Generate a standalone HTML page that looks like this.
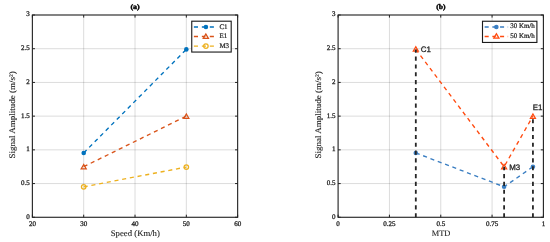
<!DOCTYPE html>
<html lang="en"><head><meta charset="utf-8"><title>Signal Amplitude</title>
<style>
html,body{margin:0;padding:0;background:#fff;}
body{width:550px;height:242px;overflow:hidden;font-family:"Liberation Serif","DejaVu Serif",serif;}
svg{display:block;}
</style></head><body>
<svg width="550" height="242" viewBox="0 0 550 242" font-family='"Liberation Serif", "DejaVu Serif", serif'>
<rect width="550" height="242" fill="#fff"/>
<style>text{stroke:#2a2a2a;stroke-width:0.3px;fill:#222;text-rendering:geometricPrecision}</style>
<line x1="83.70" y1="15.0" x2="83.70" y2="217.28" stroke="#000" stroke-opacity="0.17" stroke-width="0.85"/>
<line x1="135.02" y1="15.0" x2="135.02" y2="217.28" stroke="#000" stroke-opacity="0.17" stroke-width="0.85"/>
<line x1="186.33" y1="15.0" x2="186.33" y2="217.28" stroke="#000" stroke-opacity="0.17" stroke-width="0.85"/>
<line x1="32.38" y1="183.57" x2="237.65" y2="183.57" stroke="#000" stroke-opacity="0.17" stroke-width="0.85"/>
<line x1="32.38" y1="149.85" x2="237.65" y2="149.85" stroke="#000" stroke-opacity="0.17" stroke-width="0.85"/>
<line x1="32.38" y1="116.14" x2="237.65" y2="116.14" stroke="#000" stroke-opacity="0.17" stroke-width="0.85"/>
<line x1="32.38" y1="82.43" x2="237.65" y2="82.43" stroke="#000" stroke-opacity="0.17" stroke-width="0.85"/>
<line x1="32.38" y1="48.71" x2="237.65" y2="48.71" stroke="#000" stroke-opacity="0.17" stroke-width="0.85"/>
<polyline points="83.70,152.95 186.33,49.39" fill="none" stroke="#0072BD" stroke-width="1.35" stroke-dasharray="4.1 3.73"/>
<polyline points="83.70,166.71 186.33,116.14" fill="none" stroke="#D95319" stroke-width="1.35" stroke-dasharray="4.1 3.73"/>
<polyline points="83.70,186.87 186.33,167.05" fill="none" stroke="#EDB120" stroke-width="1.35" stroke-dasharray="4.1 3.73"/>
<circle cx="83.70" cy="152.95" r="2.3" fill="#0072BD"/>
<circle cx="186.33" cy="49.39" r="2.3" fill="#0072BD"/>
<path d="M80.10 169.56 L87.30 169.56 L83.70 163.26 Z M82.20 168.34 L83.70 165.72 L85.20 168.34 Z" fill="#D95319" fill-rule="evenodd"/>
<path d="M182.73 118.99 L189.93 118.99 L186.33 112.69 Z M184.83 117.77 L186.33 115.15 L187.83 117.77 Z" fill="#D95319" fill-rule="evenodd"/>
<circle cx="83.70" cy="186.87" r="2.25" fill="none" stroke="#EDB120" stroke-width="1.3"/>
<circle cx="186.33" cy="167.05" r="2.25" fill="none" stroke="#EDB120" stroke-width="1.3"/>
<rect x="32.38" y="15.0" width="205.27" height="202.28" fill="none" stroke="#222222" stroke-width="1.12"/>
<line x1="32.38" y1="217.28" x2="32.38" y2="214.68" stroke="#222222" stroke-width="1"/>
<line x1="32.38" y1="15.0" x2="32.38" y2="17.6" stroke="#222222" stroke-width="1"/>
<text x="32.38" y="225.68" font-size="7.0" text-anchor="middle">20</text>
<line x1="83.70" y1="217.28" x2="83.70" y2="214.68" stroke="#222222" stroke-width="1"/>
<line x1="83.70" y1="15.0" x2="83.70" y2="17.6" stroke="#222222" stroke-width="1"/>
<text x="83.70" y="225.68" font-size="7.0" text-anchor="middle">30</text>
<line x1="135.02" y1="217.28" x2="135.02" y2="214.68" stroke="#222222" stroke-width="1"/>
<line x1="135.02" y1="15.0" x2="135.02" y2="17.6" stroke="#222222" stroke-width="1"/>
<text x="135.02" y="225.68" font-size="7.0" text-anchor="middle">40</text>
<line x1="186.33" y1="217.28" x2="186.33" y2="214.68" stroke="#222222" stroke-width="1"/>
<line x1="186.33" y1="15.0" x2="186.33" y2="17.6" stroke="#222222" stroke-width="1"/>
<text x="186.33" y="225.68" font-size="7.0" text-anchor="middle">50</text>
<line x1="237.65" y1="217.28" x2="237.65" y2="214.68" stroke="#222222" stroke-width="1"/>
<line x1="237.65" y1="15.0" x2="237.65" y2="17.6" stroke="#222222" stroke-width="1"/>
<text x="237.65" y="225.68" font-size="7.0" text-anchor="middle">60</text>
<line x1="32.38" y1="217.28" x2="34.980000000000004" y2="217.28" stroke="#222222" stroke-width="1"/>
<line x1="237.65" y1="217.28" x2="235.05" y2="217.28" stroke="#222222" stroke-width="1"/>
<text x="29.78" y="218.73" font-size="7.0" text-anchor="end">0</text>
<line x1="32.38" y1="183.57" x2="34.980000000000004" y2="183.57" stroke="#222222" stroke-width="1"/>
<line x1="237.65" y1="183.57" x2="235.05" y2="183.57" stroke="#222222" stroke-width="1"/>
<text x="29.78" y="185.02" font-size="7.0" text-anchor="end">0.5</text>
<line x1="32.38" y1="149.85" x2="34.980000000000004" y2="149.85" stroke="#222222" stroke-width="1"/>
<line x1="237.65" y1="149.85" x2="235.05" y2="149.85" stroke="#222222" stroke-width="1"/>
<text x="29.78" y="151.30" font-size="7.0" text-anchor="end">1</text>
<line x1="32.38" y1="116.14" x2="34.980000000000004" y2="116.14" stroke="#222222" stroke-width="1"/>
<line x1="237.65" y1="116.14" x2="235.05" y2="116.14" stroke="#222222" stroke-width="1"/>
<text x="29.78" y="117.59" font-size="7.0" text-anchor="end">1.5</text>
<line x1="32.38" y1="82.43" x2="34.980000000000004" y2="82.43" stroke="#222222" stroke-width="1"/>
<line x1="237.65" y1="82.43" x2="235.05" y2="82.43" stroke="#222222" stroke-width="1"/>
<text x="29.78" y="83.88" font-size="7.0" text-anchor="end">2</text>
<line x1="32.38" y1="48.71" x2="34.980000000000004" y2="48.71" stroke="#222222" stroke-width="1"/>
<line x1="237.65" y1="48.71" x2="235.05" y2="48.71" stroke="#222222" stroke-width="1"/>
<text x="29.78" y="50.16" font-size="7.0" text-anchor="end">2.5</text>
<line x1="32.38" y1="15.00" x2="34.980000000000004" y2="15.00" stroke="#222222" stroke-width="1"/>
<line x1="237.65" y1="15.00" x2="235.05" y2="15.00" stroke="#222222" stroke-width="1"/>
<text x="29.78" y="16.45" font-size="7.0" text-anchor="end">3</text>
<text x="110.77" y="235.8" font-size="8.5" textLength="49.1" lengthAdjust="spacingAndGlyphs" style="stroke-width:0.12px">Speed (Km/h)</text>
<text x="130.42" y="9.3" font-size="7.1" font-weight="bold" textLength="9.3" lengthAdjust="spacingAndGlyphs" style="stroke-width:0.42px;fill:#000;stroke:#000">(a)</text>
<text transform="translate(15.18,158.5) rotate(-90)" font-size="8.5" textLength="87.2" lengthAdjust="spacingAndGlyphs" style="stroke-width:0.12px">Signal Amplitude (m/s²)</text>
<rect x="191.75" y="21.2" width="39.45" height="30.85" fill="#fff" stroke="#1c1c1c" stroke-width="1.12"/>
<line x1="193.9" y1="27.0" x2="217.7" y2="27.0" stroke="#0072BD" stroke-width="1.35" stroke-dasharray="4.1 3.85"/>
<circle cx="205.90" cy="27.00" r="2.3" fill="#0072BD"/>
<text x="219.4" y="28.50" font-size="7.0" style="stroke-width:0.2px;fill:#161616;stroke:#1c1c1c">C1</text>
<line x1="193.9" y1="36.5" x2="217.7" y2="36.5" stroke="#D95319" stroke-width="1.35" stroke-dasharray="4.1 3.85"/>
<path d="M204.42 37.70 L205.85 35.27 L207.28 37.70 Z" fill="#fff" fill-opacity="0.8"/>
<path d="M202.15 39.00 L209.55 39.00 L205.85 32.70 Z M204.42 37.70 L205.85 35.27 L207.28 37.70 Z" fill="#D95319" fill-rule="evenodd"/>
<text x="219.4" y="38.00" font-size="7.0" style="stroke-width:0.2px;fill:#161616;stroke:#1c1c1c">E1</text>
<line x1="193.9" y1="46.1" x2="217.7" y2="46.1" stroke="#EDB120" stroke-width="1.35" stroke-dasharray="4.1 3.85"/>
<circle cx="205.90" cy="46.10" r="2.25" fill="none" stroke="#EDB120" stroke-width="1.3"/>
<text x="219.4" y="47.60" font-size="7.0" style="stroke-width:0.2px;fill:#161616;stroke:#1c1c1c">M3</text>
<line x1="389.43" y1="15.0" x2="389.43" y2="217.28" stroke="#000" stroke-opacity="0.17" stroke-width="0.85"/>
<line x1="440.75" y1="15.0" x2="440.75" y2="217.28" stroke="#000" stroke-opacity="0.17" stroke-width="0.85"/>
<line x1="492.07" y1="15.0" x2="492.07" y2="217.28" stroke="#000" stroke-opacity="0.17" stroke-width="0.85"/>
<line x1="338.1" y1="183.57" x2="543.4" y2="183.57" stroke="#000" stroke-opacity="0.17" stroke-width="0.85"/>
<line x1="338.1" y1="149.85" x2="543.4" y2="149.85" stroke="#000" stroke-opacity="0.17" stroke-width="0.85"/>
<line x1="338.1" y1="116.14" x2="543.4" y2="116.14" stroke="#000" stroke-opacity="0.17" stroke-width="0.85"/>
<line x1="338.1" y1="82.43" x2="543.4" y2="82.43" stroke="#000" stroke-opacity="0.17" stroke-width="0.85"/>
<line x1="338.1" y1="48.71" x2="543.4" y2="48.71" stroke="#000" stroke-opacity="0.17" stroke-width="0.85"/>
<polyline points="415.81,152.95 504.11,186.80 532.93,166.71" fill="none" stroke="#3a7ec2" stroke-width="1.35" stroke-dasharray="4.1 3.73"/>
<polyline points="415.81,49.39 504.11,166.71 532.93,116.14" fill="none" stroke="#ff4a0f" stroke-width="1.35" stroke-dasharray="4.1 3.73"/>
<circle cx="415.81" cy="152.95" r="2.3" fill="#3a7ec2"/>
<circle cx="504.11" cy="186.80" r="2.3" fill="#3a7ec2"/>
<circle cx="532.93" cy="166.71" r="2.3" fill="#3a7ec2"/>
<path d="M412.21 51.79 L419.41 51.79 L415.81 45.49 Z M414.31 50.57 L415.81 47.95 L417.30 50.57 Z" fill="#ff4a0f" fill-rule="evenodd"/>
<path d="M500.51 169.56 L507.71 169.56 L504.11 163.26 Z M502.61 168.34 L504.11 165.72 L505.60 168.34 Z" fill="#ff4a0f" fill-rule="evenodd"/>
<path d="M529.33 118.99 L536.53 118.99 L532.93 112.69 Z M531.43 117.77 L532.93 115.15 L534.43 117.77 Z" fill="#ff4a0f" fill-rule="evenodd"/>
<line x1="415.81" y1="217.28" x2="415.81" y2="49.39" stroke="#262626" stroke-width="1.8" stroke-dasharray="4.1 3.73"/>
<line x1="504.11" y1="217.28" x2="504.11" y2="166.71" stroke="#262626" stroke-width="1.8" stroke-dasharray="4.1 3.73"/>
<line x1="532.93" y1="217.28" x2="532.93" y2="116.14" stroke="#262626" stroke-width="1.8" stroke-dasharray="4.1 3.73"/>
<g font-family='"Liberation Sans", "DejaVu Sans", sans-serif' font-size="7.9" style="stroke-width:0.28px;fill:#151515;stroke:#1a1a1a">
<text x="420.81" y="51.89">C1</text>
<text x="509.31" y="170.41">M3</text>
<text x="532.83" y="109.69">E1</text>
</g>
<rect x="338.1" y="15.0" width="205.30" height="202.28" fill="none" stroke="#222222" stroke-width="1.12"/>
<line x1="338.10" y1="217.28" x2="338.10" y2="214.68" stroke="#222222" stroke-width="1"/>
<line x1="338.10" y1="15.0" x2="338.10" y2="17.6" stroke="#222222" stroke-width="1"/>
<text x="338.10" y="225.68" font-size="7.0" text-anchor="middle">0</text>
<line x1="389.43" y1="217.28" x2="389.43" y2="214.68" stroke="#222222" stroke-width="1"/>
<line x1="389.43" y1="15.0" x2="389.43" y2="17.6" stroke="#222222" stroke-width="1"/>
<text x="389.43" y="225.68" font-size="7.0" text-anchor="middle">0.25</text>
<line x1="440.75" y1="217.28" x2="440.75" y2="214.68" stroke="#222222" stroke-width="1"/>
<line x1="440.75" y1="15.0" x2="440.75" y2="17.6" stroke="#222222" stroke-width="1"/>
<text x="440.75" y="225.68" font-size="7.0" text-anchor="middle">0.5</text>
<line x1="492.07" y1="217.28" x2="492.07" y2="214.68" stroke="#222222" stroke-width="1"/>
<line x1="492.07" y1="15.0" x2="492.07" y2="17.6" stroke="#222222" stroke-width="1"/>
<text x="492.07" y="225.68" font-size="7.0" text-anchor="middle">0.75</text>
<line x1="543.40" y1="217.28" x2="543.40" y2="214.68" stroke="#222222" stroke-width="1"/>
<line x1="543.40" y1="15.0" x2="543.40" y2="17.6" stroke="#222222" stroke-width="1"/>
<text x="543.40" y="225.68" font-size="7.0" text-anchor="middle">1</text>
<line x1="338.1" y1="217.28" x2="340.70000000000005" y2="217.28" stroke="#222222" stroke-width="1"/>
<line x1="543.4" y1="217.28" x2="540.8" y2="217.28" stroke="#222222" stroke-width="1"/>
<text x="335.50" y="218.73" font-size="7.0" text-anchor="end">0</text>
<line x1="338.1" y1="183.57" x2="340.70000000000005" y2="183.57" stroke="#222222" stroke-width="1"/>
<line x1="543.4" y1="183.57" x2="540.8" y2="183.57" stroke="#222222" stroke-width="1"/>
<text x="335.50" y="185.02" font-size="7.0" text-anchor="end">0.5</text>
<line x1="338.1" y1="149.85" x2="340.70000000000005" y2="149.85" stroke="#222222" stroke-width="1"/>
<line x1="543.4" y1="149.85" x2="540.8" y2="149.85" stroke="#222222" stroke-width="1"/>
<text x="335.50" y="151.30" font-size="7.0" text-anchor="end">1</text>
<line x1="338.1" y1="116.14" x2="340.70000000000005" y2="116.14" stroke="#222222" stroke-width="1"/>
<line x1="543.4" y1="116.14" x2="540.8" y2="116.14" stroke="#222222" stroke-width="1"/>
<text x="335.50" y="117.59" font-size="7.0" text-anchor="end">1.5</text>
<line x1="338.1" y1="82.43" x2="340.70000000000005" y2="82.43" stroke="#222222" stroke-width="1"/>
<line x1="543.4" y1="82.43" x2="540.8" y2="82.43" stroke="#222222" stroke-width="1"/>
<text x="335.50" y="83.88" font-size="7.0" text-anchor="end">2</text>
<line x1="338.1" y1="48.71" x2="340.70000000000005" y2="48.71" stroke="#222222" stroke-width="1"/>
<line x1="543.4" y1="48.71" x2="540.8" y2="48.71" stroke="#222222" stroke-width="1"/>
<text x="335.50" y="50.16" font-size="7.0" text-anchor="end">2.5</text>
<line x1="338.1" y1="15.00" x2="340.70000000000005" y2="15.00" stroke="#222222" stroke-width="1"/>
<line x1="543.4" y1="15.00" x2="540.8" y2="15.00" stroke="#222222" stroke-width="1"/>
<text x="335.50" y="16.45" font-size="7.0" text-anchor="end">3</text>
<text x="431.75" y="235.8" font-size="8.5" textLength="18.6" lengthAdjust="spacingAndGlyphs" style="stroke-width:0.12px">MTD</text>
<text x="436.15" y="9.3" font-size="7.1" font-weight="bold" textLength="9.3" lengthAdjust="spacingAndGlyphs" style="stroke-width:0.42px;fill:#000;stroke:#000">(b)</text>
<text transform="translate(320.90,158.5) rotate(-90)" font-size="8.5" textLength="87.2" lengthAdjust="spacingAndGlyphs" style="stroke-width:0.12px">Signal Amplitude (m/s²)</text>
<rect x="482.5" y="21.25" width="54.4" height="21.2" fill="#fff" stroke="#1c1c1c" stroke-width="1.12"/>
<line x1="484.65" y1="27.0" x2="508.1" y2="27.0" stroke="#3a7ec2" stroke-width="1.35" stroke-dasharray="4.05 3.65"/>
<circle cx="496.35" cy="27.00" r="2.3" fill="#3a7ec2"/>
<text x="510.2" y="28.30" font-size="7.0" textLength="24.6" lengthAdjust="spacingAndGlyphs" style="stroke-width:0.2px;fill:#161616;stroke:#1c1c1c">30 Km/h</text>
<line x1="484.65" y1="36.5" x2="508.1" y2="36.5" stroke="#ff4a0f" stroke-width="1.35" stroke-dasharray="4.05 3.65"/>
<path d="M494.97 37.50 L496.40 35.07 L497.83 37.50 Z" fill="#fff" fill-opacity="0.8"/>
<path d="M492.70 38.80 L500.10 38.80 L496.40 32.50 Z M494.97 37.50 L496.40 35.07 L497.83 37.50 Z" fill="#ff4a0f" fill-rule="evenodd"/>
<text x="510.2" y="38.05" font-size="7.0" textLength="24.6" lengthAdjust="spacingAndGlyphs" style="stroke-width:0.2px;fill:#161616;stroke:#1c1c1c">50 Km/h</text>
</svg>
</body></html>
